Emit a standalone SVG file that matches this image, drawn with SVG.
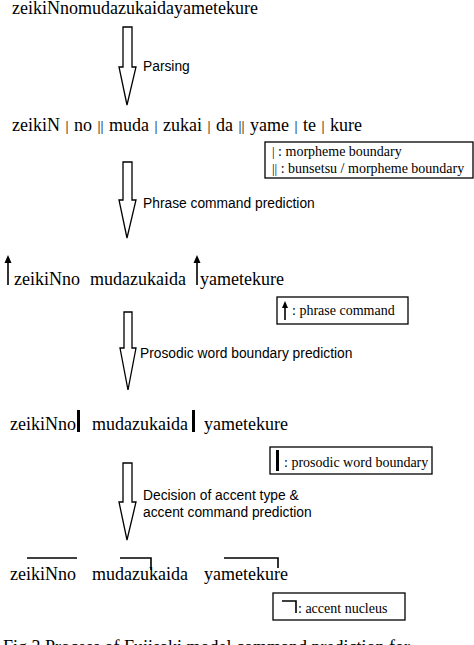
<svg xmlns="http://www.w3.org/2000/svg" width="474" height="645" viewBox="0 0 474 645">
<defs>
<style>
.t{font-family:"Liberation Serif","Times New Roman",serif;font-size:18px;fill:#000}
.s{font-family:"Liberation Sans",Arial,sans-serif;font-size:13.8px;fill:#000}
.l{font-family:"Liberation Serif","Times New Roman",serif;font-size:14px;fill:#000}
.b{font-size:15px}
.bl{font-size:13px}
.arr{fill:#fff;stroke:#000;stroke-width:1.3;stroke-linejoin:miter}
.box{fill:#fff;stroke:#000;stroke-width:1.3}
.ln{fill:none;stroke:#000;stroke-width:1.6}
</style>
</defs>
<rect width="474" height="645" fill="#fff"/>

<g id="connectors">
<g id="a1"><polygon class="arr" points="123,27 132,27 132,67 136,67 127,105 119,67 123,67"/></g>
<g id="a2"><polygon class="arr" points="123,162 132,162 132,200 136,200 127,238 119,200 123,200"/></g>
<g id="a3"><polygon class="arr" points="124,312 132,312 132,348 136,348 128,390 120,348 124,348"/></g>
<g id="a4"><polygon class="arr" points="123,463 132,463 132,502 136,502 127,540 119,502 123,502"/></g>
</g>

<g id="labels">
<text class="s" x="143" y="71">Parsing</text>
<text class="s" x="143" y="208">Phrase command prediction</text>
<text class="s" x="140" y="358">Prosodic word boundary prediction</text>
<text class="s" x="143" y="500">Decision of accent type &amp;</text>
<text class="s" x="143" y="517">accent command prediction</text>
</g>

<g id="n1"><text class="t" x="12" y="14">zeikiNnomudazukaidayametekure</text></g>

<g id="n2"><text class="t" x="12" y="131" word-spacing="1">zeikiN <tspan class="b">|</tspan> no <tspan class="b">||</tspan> muda <tspan class="b">|</tspan> zukai <tspan class="b">|</tspan> da <tspan class="b">||</tspan> yame <tspan class="b">|</tspan> te <tspan class="b">|</tspan> kure</text></g>

<g id="legend1">
<rect class="box" x="265" y="142" width="208" height="36"/>
<text class="l" x="272" y="156"><tspan class="bl">|</tspan>  : morpheme boundary</text>
<text class="l" x="272" y="173"><tspan class="bl">||</tspan> : bunsetsu / morpheme boundary</text>
</g>

<g id="n3">
<path d="M8,285 V262" class="ln" stroke-width="2"/>
<polygon points="8,255 4.5,263 11.5,263" fill="#000"/>
<text class="t" x="14" y="285">zeikiNno</text>
<text class="t" x="90" y="285">mudazukaida</text>
<path d="M197,285 V262" class="ln" stroke-width="2"/>
<polygon points="197,255 193.5,263 200.5,263" fill="#000"/>
<text class="t" x="200" y="285">yametekure</text>
</g>

<g id="legend2">
<rect class="box" x="277" y="297" width="131" height="27"/>
<path d="M285,320 V307" class="ln" stroke-width="2"/>
<polygon points="285,301 282,308 288,308" fill="#000"/>
<text class="l" x="292" y="315">: phrase command</text>
</g>

<g id="n4">
<text class="t" x="10" y="430">zeikiNno</text>
<rect x="77" y="410" width="3" height="22" fill="#000"/>
<text class="t" x="92" y="430">mudazukaida</text>
<rect x="192" y="410" width="3" height="22" fill="#000"/>
<text class="t" x="204" y="430">yametekure</text>
</g>

<g id="legend3">
<rect class="box" x="270" y="447" width="162" height="27"/>
<rect x="276" y="450" width="3" height="21" fill="#000"/>
<text class="l" x="284" y="467">: prosodic word boundary</text>
</g>

<g id="n5">
<path class="ln" d="M27,558 H77"/>
<text class="t" x="10" y="580">zeikiNno</text>
<path class="ln" d="M120,558 H151 V570"/>
<text class="t" x="92" y="580">mudazukaida</text>
<path class="ln" d="M224,558 H278 V568"/>
<text class="t" x="204" y="580">yametekure</text>
</g>

<g id="legend4">
<rect class="box" x="273" y="593" width="132" height="27"/>
<path class="ln" d="M282,601 H296 V613"/>
<text class="l" x="298" y="613">: accent nucleus</text>
</g>

<g id="caption"><text class="t" x="3" y="653" font-size="18">Fig.3  Process of Fujisaki model command prediction for</text></g>
</svg>
